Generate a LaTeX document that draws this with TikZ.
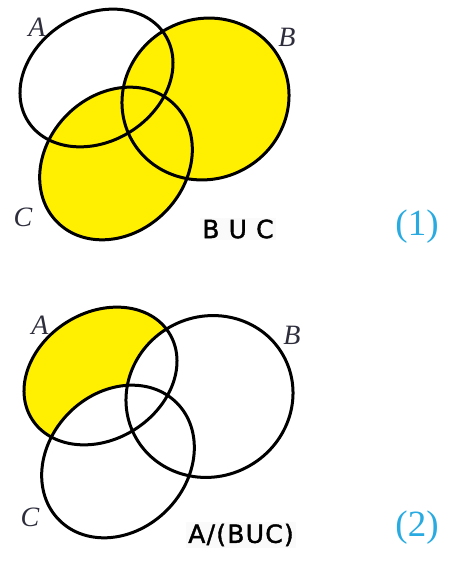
\documentclass[tikz,border=0pt]{standalone}
\usepackage{fontspec}
\setmainfont{Liberation Serif}
\newfontfamily\lblsans[LetterSpace=5,FakeBold=1.5]{DejaVu Sans}
\definecolor{vyellow}{RGB}{255,239,0}
\definecolor{lblcol}{RGB}{45,45,60}
\definecolor{numblue}{RGB}{41,171,226}
\tikzset{
  outl/.style={draw=black, line width=3pt},
  fillc/.style={fill=vyellow},
  setlbl/.style={text=lblcol, font=\fontsize{28}{28}\selectfont\itshape, inner sep=0pt},
  opbox/.style={fill=gray!4, text=black, font=\fontsize{25}{25}\selectfont\lblsans, inner sep=2pt},
  numlbl/.style={text=numblue, font=\fontsize{37}{37}\selectfont, inner sep=0pt}
}
\begin{document}
\begin{tikzpicture}[x=1pt,y=1pt]
\useasboundingbox (0,0) rectangle (452,574);
% ---------- diagram (1): B U C ----------
\coordinate (A1) at (96.5,496);
\coordinate (B1) at (205.5,475);
\coordinate (C1) at (116,410.5);
\fill[fillc, rotate around={27:(B1)}] (B1) ellipse [x radius=84.4pt, y radius=80pt];
\fill[fillc, rotate around={45:(C1)}] (C1) ellipse [x radius=83pt, y radius=69pt];
\draw[outl, rotate around={32:(A1)}] (A1) ellipse [x radius=81pt, y radius=63.5pt];
\draw[outl, rotate around={27:(B1)}] (B1) ellipse [x radius=84.4pt, y radius=80pt];
\draw[outl, rotate around={45:(C1)}] (C1) ellipse [x radius=83pt, y radius=69pt];
\node[setlbl] (la1) at (37,547) {A};
\node[setlbl] (lb1) at (287,537) {B};
\node[setlbl] (lc1) at (23,357) {C};
\node[opbox] (op1) at (238,345) {B U C};
\node[numlbl] (n1) at (417,347) {(1)};
% ---------- diagram (2): A/(BUC) ----------
\coordinate (A2) at (100.5,198);
\coordinate (B2) at (209.5,177.5);
\coordinate (C2) at (118,112.5);
\begin{scope}
  \clip[rotate around={32:(A2)}] (A2) ellipse [x radius=81pt, y radius=63.5pt];
  \fill[fillc, rotate around={32:(A2)}] (A2) ellipse [x radius=81pt, y radius=63.5pt];
  \fill[white, rotate around={27:(B2)}] (B2) ellipse [x radius=84.4pt, y radius=80pt];
  \fill[white, rotate around={45:(C2)}] (C2) ellipse [x radius=83pt, y radius=69pt];
\end{scope}
\draw[outl, rotate around={32:(A2)}] (A2) ellipse [x radius=81pt, y radius=63.5pt];
\draw[outl, rotate around={27:(B2)}] (B2) ellipse [x radius=84.4pt, y radius=80pt];
\draw[outl, rotate around={45:(C2)}] (C2) ellipse [x radius=83pt, y radius=69pt];
\node[setlbl] (la2) at (40,249) {A};
\node[setlbl] (lb2) at (292,239) {B};
\node[setlbl] (lc2) at (30,57) {C};
\node[opbox] (op2) at (241,39) {A/(BUC)};
\node[numlbl] (n2) at (417,46) {(2)};
\end{tikzpicture}
\end{document}
